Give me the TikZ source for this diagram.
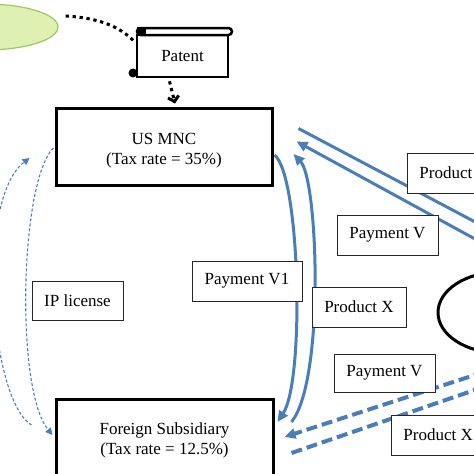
\documentclass[tikz,border=0pt]{standalone}
\usepackage{fontspec}
\setmainfont{Liberation Serif}
\usetikzlibrary{arrows.meta,shapes.geometric,calc}
\pgfdeclarelayer{bg}
\pgfsetlayers{bg,main}
\definecolor{arrowblue}{RGB}{74,126,187}
\definecolor{ideafill}{RGB}{222,240,178}
\definecolor{ideadraw}{RGB}{160,200,95}
\begin{document}
\begin{tikzpicture}[x=1pt,y=-1pt,
  every node/.style={font=\fontsize{17}{20}\selectfont, align=center},
  bigbox/.style={draw=black, line width=3pt, fill=white, rectangle, inner sep=0pt},
  labelbox/.style={draw=black!85, line width=0.8pt, fill=white, rectangle, inner sep=0pt},
  dotline/.style={draw=black, line width=3pt, dash pattern=on 3.3pt off 3.7pt},
  solidblue/.style={draw=arrowblue, line width=3pt},
  dashblue/.style={draw=arrowblue, line width=4pt, dash pattern=on 11pt off 5pt},
  thinblue/.style={draw=arrowblue, line width=1.1pt, dash pattern=on 3pt off 2pt},
  bluetip/.style={-{Triangle[length=11pt,width=10pt]}},
  smalltip/.style={-{Triangle[length=7pt,width=7pt]}}
]
\useasboundingbox (0,0) rectangle (474,474);
\clip (0,0) rectangle (474,474);

% nodes
\node[ellipse, draw=ideadraw, fill=ideafill, line width=1.2pt, minimum width=146pt, minimum height=46pt] (idea) at (-15,27) {};
\node[draw=black, line width=2.5pt, fill=white, rectangle, inner sep=0pt, minimum width=91pt, minimum height=42pt] (patent) at (182.5,56) {Patent};
\draw[line width=2.5pt, rounded corners=3.5pt, fill=white] (137,28) rectangle (232,35);
\fill (137,27) rectangle (146,36);
\fill (133,73) circle (4.5pt);

\node[bigbox, minimum width=216pt, minimum height=77pt] (usmnc) at (164,146.5) {};
\node (usmnctext) at (164,151) {US MNC\\(Tax rate = 35\%)};
\node[bigbox, minimum width=217pt, minimum height=80pt] (foreign) at (164.5,439) {};
\node (foreigntext) at (164.5,440) {Foreign Subsidiary\\(Tax rate = 12.5\%)};
\node[ellipse, draw=black, line width=3pt, fill=white, minimum width=124pt, minimum height=81pt] (rightell) at (500,312.5) {};

\node[labelbox, minimum width=91pt, minimum height=39pt] (ip) at (77.5,300.5) {IP license};
\node[labelbox, minimum width=110pt, minimum height=40pt] (pv1) at (247,281) {Payment V1};
\node[labelbox, minimum width=94pt, minimum height=40pt] (pxm) at (359,307) {Product X};
\node[labelbox, minimum width=101pt, minimum height=40pt] (pvt) at (387.5,235) {Payment V};
\node[labelbox, minimum width=101pt, minimum height=38pt] (pvl) at (384.5,373) {Payment V};
\node[labelbox, anchor=west, inner xsep=12pt, minimum height=40pt] (pt) at (407,173) {Product};
\node[labelbox, anchor=west, inner xsep=12pt, minimum height=40pt] (pxl) at (391,435) {Product X};

\coordinate (d1end) at (530,251);
\coordinate (d2start) at (530,269);
\coordinate (e1) at (530,357);
\coordinate (e2) at (530,371);

\begin{pgfonlayer}{bg}
% idea -> patent
\draw[dotline] ($(idea.east)+(7,-11)$) .. controls (100,18) and (120,27) .. ($(patent.west)+(-2,-15)$);
% patent -> US MNC
\draw[dotline, -{Straight Barb[length=5pt,width=11pt]}] ($(patent.south)+(-13,3)$) -- ($(usmnc.north)+(11,-3)$);
% diagonal solid lines
\draw[solidblue] ($(usmnc.north east)+(25,22)$) -- (d1end);
\draw[solidblue, bluetip] (d2start) -- ($(usmnc.north east)+(23,35)$);
% curved solid arrows
\draw[solidblue, bluetip] ($(usmnc.east)+(1,8.5)$) .. controls (300,175) and (305,380) .. ($(foreign.east)+(3,-17)$);
\draw[solidblue, bluetip] ($(foreign.east)+(17,-17)$) .. controls (325,380) and (318,180) .. ($(usmnc.east)+(20,7.5)$);
% dashed thick arrows
\draw[dashblue, bluetip] (e1) -- ($(foreign.east)+(10,-2)$);
\draw[dashblue] ($(foreign.east)+(17,14)$) -- (e2);
% thin dashed left curves
\draw[thinblue, smalltip] ($(usmnc.west)+(-1,1.5)$) .. controls (20,180) and (15,390) .. ($(foreign.west)+(-2,-4)$);
\draw[thinblue, smalltip] ($(foreign.west)+(-23,-14)$) .. controls (-10,400) and (-25,200) .. ($(usmnc.west)+(-25,11.5)$);
\end{pgfonlayer}
\end{tikzpicture}
\end{document}
